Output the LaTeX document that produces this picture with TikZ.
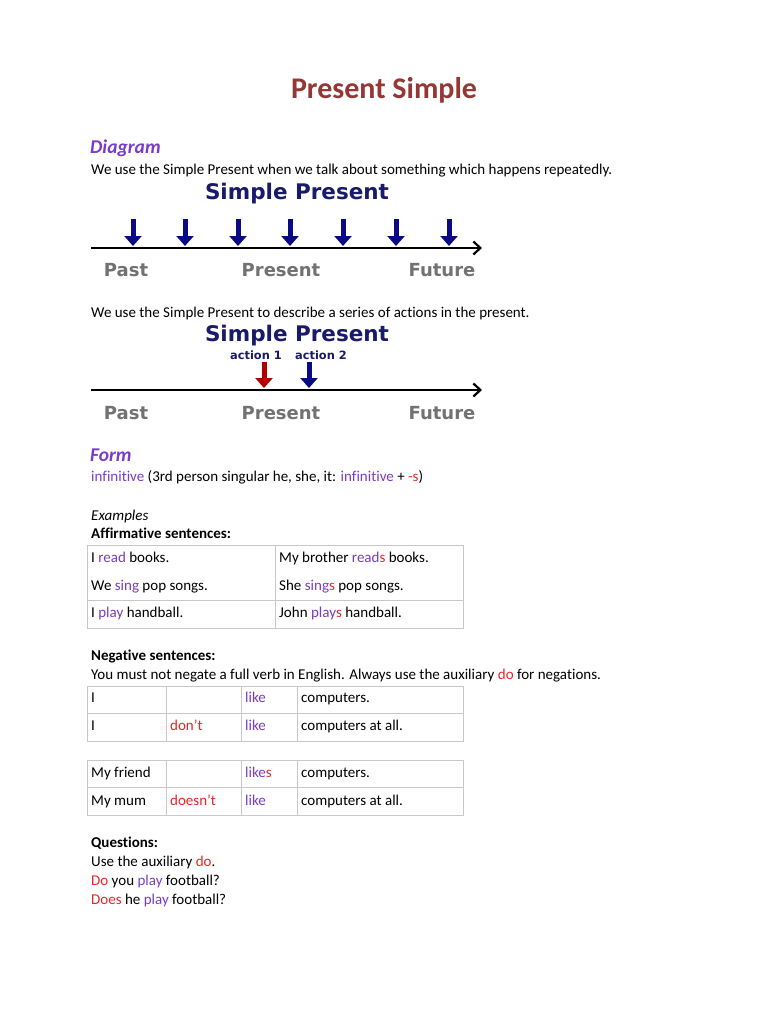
\documentclass[tikz,border=0pt]{standalone}
\usepackage{fontspec}
\setmainfont[Ligatures={NoCommon}]{Carlito}
\newfontfamily\verd{DejaVu Sans}
\usetikzlibrary{arrows.meta}
\definecolor{titlered}{HTML}{953735}
\definecolor{purp}{HTML}{7A3CC8}
\definecolor{redw}{HTML}{E8262A}
\definecolor{navy}{HTML}{0A0A85}
\definecolor{tnavy}{HTML}{1A1A6A}
\definecolor{lgray}{HTML}{727272}
\definecolor{grid}{HTML}{C8C8C8}
\newcommand{\pu}[1]{\textcolor{purp}{#1}}
\newcommand{\rd}[1]{\textcolor{redw}{#1}}
\newcommand{\ap}{\symbol{39}}
\tikzset{
  txt/.style={anchor=west,inner sep=0pt,text height=10pt,text depth=3pt,font=\fontsize{15}{18}\selectfont},
  tl/.style={inner sep=0pt,font=\verd\bfseries\fontsize{18}{21}\selectfont,text=lgray},
  tltitle/.style={inner sep=0pt,font=\verd\bfseries\fontsize{21.5}{24}\selectfont,text=tnavy},
  axis/.style={line width=2.2pt,-{Straight Barb[length=7pt,width=13pt,line width=2.2pt]}},
  darr/.style={line width=5pt,-{Triangle[length=10pt,width=17pt]},draw=navy},
  gridl/.style={draw=grid,line width=0.8pt}
}
\begin{document}
\begin{tikzpicture}[x=1pt,y=-1pt]
\useasboundingbox[fill=white] (0,0) rectangle (768,1024);
\node[inner sep=0pt,text=titlered,font=\bfseries\fontsize{30}{34}\selectfont] (title) at (384,90) {Present Simple};
\node[txt,text height=13pt,text depth=4pt,text=purp,font=\bfseries\itshape\fontsize{19.5}{22}\selectfont] (diag) at (90,149) {Diagram};
\node[txt] (s1) at (91,171) {We use the Simple Present when we talk about something which happens repeatedly.};
% timeline 1
\node[tltitle] (sp1) at (297,194) {Simple Present};
\coordinate (a1s) at (91,248); \coordinate (a1e) at (482,248);
\draw[axis] (a1s) -- (a1e);
\foreach \x [count=\i] in {133,185,238,290,343,396,449}{
  \coordinate (u\i) at (\x,219); \coordinate (d\i) at (\x,246);
  \draw[darr] (u\i) -- (d\i);}
\node[tl] (past1) at (126,270) {Past};
\node[tl] (pres1) at (281,270) {Present};
\node[tl] (fut1) at (442,270) {Future};
\node[txt] (s2) at (91,314) {We use the Simple Present to describe a series of actions in the present.};
% timeline 2
\node[tltitle] (sp2) at (297,336) {Simple Present};
\node[inner sep=0pt,text=tnavy,font=\verd\bfseries\fontsize{11.4}{13}\selectfont] (ac1) at (256,355) {action 1};
\node[inner sep=0pt,text=tnavy,font=\verd\bfseries\fontsize{11.4}{13}\selectfont] (ac2) at (321,355) {action 2};
\coordinate (a2s) at (91,390); \coordinate (a2e) at (482,390);
\draw[axis] (a2s) -- (a2e);
\coordinate (r1) at (264,362); \coordinate (r2) at (264,388);
\draw[darr,draw=red!70!black] (r1) -- (r2);
\coordinate (b1) at (309,362); \coordinate (b2) at (309,388);
\draw[darr] (b1) -- (b2);
\node[tl] (past2) at (126,413) {Past};
\node[tl] (pres2) at (281,413) {Present};
\node[tl] (fut2) at (442,413) {Future};
% form
\node[txt,text height=13pt,text depth=4pt,text=purp,font=\bfseries\itshape\fontsize{19.5}{22}\selectfont] (form) at (90,457) {Form};
\node[txt] (inf) at (91,478) {\pu{infinitive} (3rd person singular he, she, it: \pu{infinitive} + \rd{-s})};
\node[txt,font=\itshape\fontsize{15}{18}\selectfont] (ex) at (91,517) {Examples};
\node[txt,font=\bfseries\fontsize{15}{18}\selectfont] (aff) at (91,535) {Affirmative sentences:};
% table 1
\draw[gridl] (87,545) rectangle (463,628);
\draw[gridl] (87,600) -- (463,600);
\draw[gridl] (275,545) -- (275,628);
\node[txt] (t11) at (91,559) {I \pu{read} books.};
\node[txt] (t12) at (279,559) {My brother \pu{read}\rd{s} books.};
\node[txt] (t21) at (91,587) {We \pu{sing} pop songs.};
\node[txt] (t22) at (279,587) {She \pu{sing}\rd{s} pop songs.};
\node[txt] (t31) at (91,614) {I \pu{play} handball.};
\node[txt] (t32) at (279,614) {John \pu{play}\rd{s} handball.};
% negative
\node[txt,font=\bfseries\fontsize{15}{18}\selectfont] (neg) at (91,657) {Negative sentences:};
\node[txt] (negt) at (91,676) {You must not negate a full verb in English. Always use the auxiliary \rd{do} for negations.};
% table 2
\draw[gridl] (87,686) rectangle (463,741);
\draw[gridl] (87,713) -- (463,713);
\foreach \x in {166,241,297} \draw[gridl] (\x,686) -- (\x,741);
\node[txt] (n11) at (91,699) {I};
\node[txt] (n13) at (245,699) {\pu{like}};
\node[txt] (n14) at (301,699) {computers.};
\node[txt] (n21) at (91,727) {I};
\node[txt] (n22) at (170,727) {\rd{don\ap t}};
\node[txt] (n23) at (245,727) {\pu{like}};
\node[txt] (n24) at (301,727) {computers at all.};
% table 3
\draw[gridl] (87,760) rectangle (463,815);
\draw[gridl] (87,787) -- (463,787);
\foreach \x in {166,241,297} \draw[gridl] (\x,760) -- (\x,815);
\node[txt] (m11) at (91,774) {My friend};
\node[txt] (m13) at (245,774) {\pu{like}\rd{s}};
\node[txt] (m14) at (301,774) {computers.};
\node[txt] (m21) at (91,802) {My mum};
\node[txt] (m22) at (170,802) {\rd{doesn\ap t}};
\node[txt] (m23) at (245,802) {\pu{like}};
\node[txt] (m24) at (301,802) {computers at all.};
% questions
\node[txt,font=\bfseries\fontsize{15}{18}\selectfont] (q) at (91,844) {Questions:};
\node[txt] (q1) at (91,863) {Use the auxiliary \rd{do}.};
\node[txt] (q2) at (91,882) {\rd{Do} you \pu{play} football?};
\node[txt] (q3) at (91,901) {\rd{Does} he \pu{play} football?};
\end{tikzpicture}
\end{document}
